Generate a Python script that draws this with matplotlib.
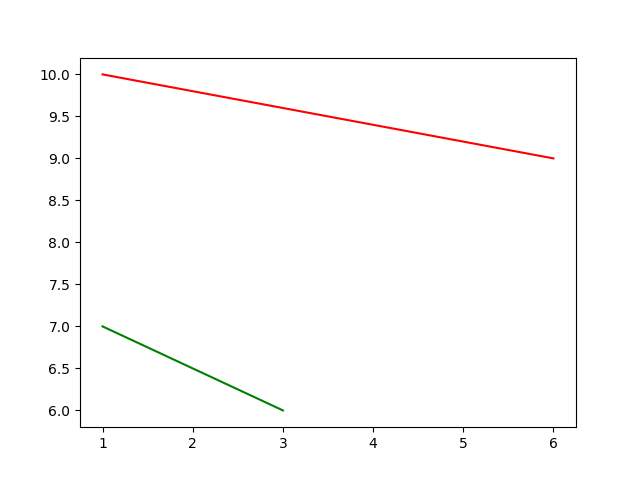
import matplotlib
matplotlib.use("Agg")
import matplotlib.pyplot as plt

red_x = [1, 6]
red_y = [10, 9]
green_x = [1, 3]
green_y = [7, 6]

fig, ax = plt.subplots(figsize=(6.4, 4.8), dpi=100)
ax.plot(red_x, red_y, color="red")
ax.plot(green_x, green_y, color="green")
fig.savefig("out.png")
